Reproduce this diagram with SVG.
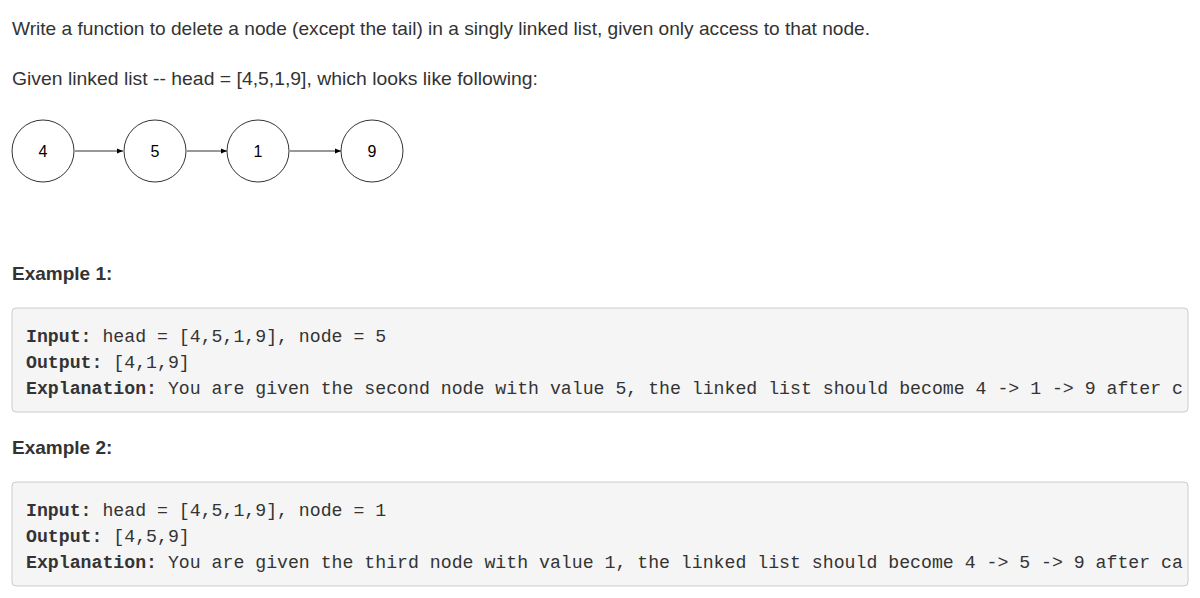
<svg xmlns="http://www.w3.org/2000/svg" width="1200" height="598" viewBox="0 0 1200 598">
<style>
.t{font-family:"Liberation Sans",Arial,sans-serif;font-size:19px;fill:#333}
.h{font-family:"Liberation Sans",Arial,sans-serif;font-size:19px;font-weight:bold;fill:#333}
.m{font-family:"Liberation Mono","DejaVu Sans Mono",monospace;font-size:18.2px;fill:#333}
.b{font-weight:bold}
.box{fill:#f5f5f5;stroke:#ccc;stroke-width:1}
.n circle{fill:#fff;stroke:#333;stroke-width:1}
.n text{font-family:"Liberation Sans",Arial,sans-serif;font-size:16px;fill:#000;text-anchor:middle}
.c line{stroke:#333;stroke-width:1}
</style>
<defs>
<marker id="a" viewBox="0 0 10 10" refX="10" refY="5" markerWidth="6" markerHeight="6" orient="auto"><path d="M0,1L10,5L0,9z" fill="#000"/></marker>
<clipPath id="c1"><rect x="12" y="308" width="1176" height="104" rx="4"/></clipPath>
<clipPath id="c2"><rect x="12" y="482" width="1176" height="104" rx="4"/></clipPath>
</defs>
<rect width="1200" height="598" fill="#fff"/>
<text class="t" x="12" y="35" textLength="858" lengthAdjust="spacingAndGlyphs">Write a function to delete a node (except the tail) in a singly linked list, given only access to that node.</text>
<text class="t" x="12" y="85" textLength="526" lengthAdjust="spacingAndGlyphs">Given linked list -- head = [4,5,1,9], which looks like following:</text>
<g class="c">
<line x1="75" y1="151" x2="123" y2="151" marker-end="url(#a)"/>
<line x1="187" y1="151" x2="227" y2="151" marker-end="url(#a)"/>
<line x1="290" y1="151" x2="341" y2="151" marker-end="url(#a)"/>
</g>
<g id="n4" class="n"><circle cx="43" cy="151" r="31"/><text x="43" y="157">4</text></g>
<g id="n5" class="n"><circle cx="155" cy="151" r="31"/><text x="155" y="157">5</text></g>
<g id="n1" class="n"><circle cx="258" cy="151" r="31"/><text x="258" y="157">1</text></g>
<g id="n9" class="n"><circle cx="372" cy="151" r="31"/><text x="372" y="157">9</text></g>
<text class="h" x="12" y="280">Example 1:</text>
<rect class="box" x="12" y="308" width="1176" height="104" rx="4"/>
<g clip-path="url(#c1)">
<text class="m" x="26" y="342"><tspan class="b">Input:</tspan> head = [4,5,1,9], node = 5</text>
<text class="m" x="26" y="368"><tspan class="b">Output:</tspan> [4,1,9]</text>
<text class="m" x="26" y="394"><tspan class="b">Explanation:</tspan> You are given the second node with value 5, the linked list should become 4 -&gt; 1 -&gt; 9 after c</text>
</g>
<text class="h" x="12" y="454">Example 2:</text>
<rect class="box" x="12" y="482" width="1176" height="104" rx="4"/>
<g clip-path="url(#c2)">
<text class="m" x="26" y="516"><tspan class="b">Input:</tspan> head = [4,5,1,9], node = 1</text>
<text class="m" x="26" y="542"><tspan class="b">Output:</tspan> [4,5,9]</text>
<text class="m" x="26" y="568"><tspan class="b">Explanation:</tspan> You are given the third node with value 1, the linked list should become 4 -&gt; 5 -&gt; 9 after ca</text>
</g>
</svg>
